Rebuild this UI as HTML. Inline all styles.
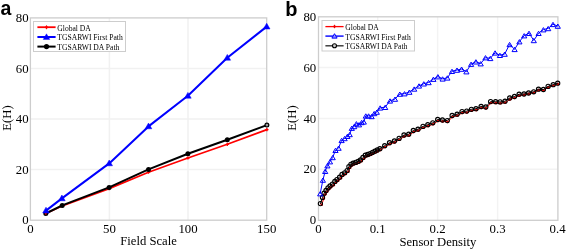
<!DOCTYPE html>
<html><head><meta charset="utf-8"><title>E(H) plots</title>
<style>
html,body{margin:0;padding:0;background:#fff;}
body{width:567px;height:250px;overflow:hidden;}
svg{display:block;}
</style></head>
<body>
<svg width="567" height="250" viewBox="0 0 567 250">
<rect width="567" height="250" fill="#ffffff"/>
<text x="0.50" y="15.20" text-anchor="start" font-family='"Liberation Sans", Arial, sans-serif' font-size="19.5" fill="#000000" font-weight="bold">a</text>
<line x1="109.4" y1="18.0" x2="109.4" y2="219.9" stroke="#f1f1f1" stroke-width="1.5"/>
<line x1="188.0" y1="18.0" x2="188.0" y2="219.9" stroke="#f1f1f1" stroke-width="1.5"/>
<line x1="30.5" y1="169.5" x2="266.5" y2="169.5" stroke="#f1f1f1" stroke-width="1.5"/>
<line x1="30.5" y1="119.0" x2="266.5" y2="119.0" stroke="#f1f1f1" stroke-width="1.5"/>
<line x1="30.5" y1="68.6" x2="266.5" y2="68.6" stroke="#f1f1f1" stroke-width="1.5"/>
<rect x="30.4" y="17.9" width="236.30" height="202.30" fill="none" stroke="#cdcdcd" stroke-width="1.3"/>
<polyline points="45.80,213.60 62.10,206.00 109.10,188.60 148.50,172.20 187.90,158.00 227.30,144.30 266.90,129.60" fill="none" stroke="#ff0000" stroke-width="1.7" stroke-linejoin="round" stroke-linecap="round"/>
<path d="M44.20 213.60H47.40M45.80 212.00V215.20" stroke="#ff0000" stroke-width="1.3" fill="none"/>
<path d="M60.50 206.00H63.70M62.10 204.40V207.60" stroke="#ff0000" stroke-width="1.3" fill="none"/>
<path d="M107.50 188.60H110.70M109.10 187.00V190.20" stroke="#ff0000" stroke-width="1.3" fill="none"/>
<path d="M146.90 172.20H150.10M148.50 170.60V173.80" stroke="#ff0000" stroke-width="1.3" fill="none"/>
<path d="M186.30 158.00H189.50M187.90 156.40V159.60" stroke="#ff0000" stroke-width="1.3" fill="none"/>
<path d="M225.70 144.30H228.90M227.30 142.70V145.90" stroke="#ff0000" stroke-width="1.3" fill="none"/>
<path d="M265.30 129.60H268.50M266.90 128.00V131.20" stroke="#ff0000" stroke-width="1.3" fill="none"/>
<polyline points="45.80,213.50 62.20,205.40 109.10,187.40 148.50,169.40 187.90,153.80 227.30,139.80 266.90,125.10" fill="none" stroke="#000000" stroke-width="2.0" stroke-linejoin="round" stroke-linecap="round"/>
<circle cx="45.80" cy="213.50" r="2.5" fill="#000000" stroke="none" stroke-width="0"/>
<circle cx="62.20" cy="205.40" r="2.5" fill="#000000" stroke="none" stroke-width="0"/>
<circle cx="109.10" cy="187.40" r="2.5" fill="#000000" stroke="none" stroke-width="0"/>
<circle cx="148.50" cy="169.40" r="2.5" fill="#000000" stroke="none" stroke-width="0"/>
<circle cx="187.90" cy="153.80" r="2.5" fill="#000000" stroke="none" stroke-width="0"/>
<circle cx="227.30" cy="139.80" r="2.5" fill="#000000" stroke="none" stroke-width="0"/>
<circle cx="266.90" cy="125.10" r="1.9" fill="#9a9a9a" stroke="#000000" stroke-width="1.2"/>
<circle cx="45.80" cy="213.70" r="1.0" fill="#dd0000" stroke="none" stroke-width="0"/>
<polyline points="46.00,210.60 61.90,198.40 109.20,163.40 148.50,126.40 187.90,95.80 227.30,57.80 266.70,26.60" fill="none" stroke="#0000ff" stroke-width="2.0" stroke-linejoin="round" stroke-linecap="round"/>
<polygon points="46.00,207.20 49.30,212.98 42.70,212.98" fill="#0000ff" stroke="#0000ff" stroke-width="0.5" stroke-linejoin="miter"/>
<polygon points="61.90,195.00 65.20,200.78 58.60,200.78" fill="#0000ff" stroke="#0000ff" stroke-width="0.5" stroke-linejoin="miter"/>
<polygon points="109.20,160.00 112.50,165.78 105.90,165.78" fill="#0000ff" stroke="#0000ff" stroke-width="0.5" stroke-linejoin="miter"/>
<polygon points="148.50,123.00 151.80,128.78 145.20,128.78" fill="#0000ff" stroke="#0000ff" stroke-width="0.5" stroke-linejoin="miter"/>
<polygon points="187.90,92.40 191.20,98.18 184.60,98.18" fill="#0000ff" stroke="#0000ff" stroke-width="0.5" stroke-linejoin="miter"/>
<polygon points="227.30,54.40 230.60,60.18 224.00,60.18" fill="#0000ff" stroke="#0000ff" stroke-width="0.5" stroke-linejoin="miter"/>
<polygon points="266.70,23.20 270.00,28.98 263.40,28.98" fill="#0000ff" stroke="#0000ff" stroke-width="0.5" stroke-linejoin="miter"/>
<text x="28.60" y="224.10" text-anchor="end" font-family='"Liberation Serif", "Times New Roman", serif' font-size="12.8" fill="#000000" >0</text>
<text x="28.60" y="173.70" text-anchor="end" font-family='"Liberation Serif", "Times New Roman", serif' font-size="12.8" fill="#000000" >20</text>
<text x="28.60" y="123.20" text-anchor="end" font-family='"Liberation Serif", "Times New Roman", serif' font-size="12.8" fill="#000000" >40</text>
<text x="28.60" y="72.80" text-anchor="end" font-family='"Liberation Serif", "Times New Roman", serif' font-size="12.8" fill="#000000" >60</text>
<text x="28.60" y="22.20" text-anchor="end" font-family='"Liberation Serif", "Times New Roman", serif' font-size="12.8" fill="#000000" >80</text>
<text x="30.50" y="232.90" text-anchor="middle" font-family='"Liberation Serif", "Times New Roman", serif' font-size="12.8" fill="#000000" >0</text>
<text x="109.40" y="232.90" text-anchor="middle" font-family='"Liberation Serif", "Times New Roman", serif' font-size="12.8" fill="#000000" >50</text>
<text x="188.00" y="232.90" text-anchor="middle" font-family='"Liberation Serif", "Times New Roman", serif' font-size="12.8" fill="#000000" >100</text>
<text x="266.70" y="232.90" text-anchor="middle" font-family='"Liberation Serif", "Times New Roman", serif' font-size="12.8" fill="#000000" >150</text>
<text transform="translate(10.7,118.0) rotate(-90)" text-anchor="middle" font-family='"Liberation Serif", "Times New Roman", serif' font-size="12.65" fill="#000000">E(H)</text>
<text x="148.50" y="245.30" text-anchor="middle" font-family='"Liberation Serif", "Times New Roman", serif' font-size="12.65" fill="#000000" >Field Scale</text>
<rect x="33.5" y="21.5" width="92.00" height="30.00" fill="#ffffff" stroke="#cdcdcd" stroke-width="1"/>
<line x1="37.4" y1="27.2" x2="55.6" y2="27.2" stroke="#ff0000" stroke-width="1.8"/>
<polygon points="46.50,25.00 48.10,27.20 46.50,29.40 44.90,27.20" fill="#ff0000"/>
<text x="57.30" y="30.60" text-anchor="start" font-family='"Liberation Serif", "Times New Roman", serif' font-size="7.6" fill="#000000" >Global DA</text>
<line x1="37.4" y1="37.0" x2="55.6" y2="37.0" stroke="#0000ff" stroke-width="2.0"/>
<polygon points="46.50,33.80 49.80,39.41 43.20,39.41" fill="#0000ff" stroke="#0000ff" stroke-width="0.4" stroke-linejoin="miter"/>
<text x="57.30" y="40.40" text-anchor="start" font-family='"Liberation Serif", "Times New Roman", serif' font-size="7.6" fill="#000000" >TGSARWI First Path</text>
<line x1="37.4" y1="46.6" x2="55.6" y2="46.6" stroke="#000000" stroke-width="2.0"/>
<circle cx="46.50" cy="46.60" r="2.6" fill="#000000" stroke="none" stroke-width="0"/>
<text x="57.30" y="50.00" text-anchor="start" font-family='"Liberation Serif", "Times New Roman", serif' font-size="7.6" fill="#000000" >TGSARWI DA Path</text>
<text x="285.20" y="15.80" text-anchor="start" font-family='"Liberation Sans", Arial, sans-serif' font-size="20" fill="#000000" font-weight="bold">b</text>
<line x1="377.7" y1="16.7" x2="377.7" y2="220.1" stroke="#f3f3f3" stroke-width="1.5"/>
<line x1="437.6" y1="16.7" x2="437.6" y2="220.1" stroke="#f3f3f3" stroke-width="1.5"/>
<line x1="497.6" y1="16.7" x2="497.6" y2="220.1" stroke="#f3f3f3" stroke-width="1.5"/>
<line x1="318.5" y1="169.2" x2="557.5" y2="169.2" stroke="#f3f3f3" stroke-width="1.5"/>
<line x1="318.5" y1="118.4" x2="557.5" y2="118.4" stroke="#f3f3f3" stroke-width="1.5"/>
<line x1="318.5" y1="67.4" x2="557.5" y2="67.4" stroke="#f3f3f3" stroke-width="1.5"/>
<rect x="318.5" y="16.8" width="239.40" height="203.50" fill="none" stroke="#cdcdcd" stroke-width="1.3"/>
<polyline points="321.70,204.70 323.80,198.60 325.40,194.30 327.30,191.60 329.30,189.00 331.30,187.10 333.70,185.20 336.10,182.60 338.20,180.70 340.90,178.30 343.30,175.60 345.90,173.90 348.40,171.70 350.20,167.70 352.20,165.40 354.40,164.30 357.00,163.50 359.40,162.50 361.80,161.10 364.20,158.60 366.60,156.30 369.00,155.60 371.40,154.70 372.80,153.80 375.20,152.60 377.60,151.40 380.20,150.10 385.00,147.10 389.80,144.10 394.70,142.40 399.40,139.80 404.30,136.40 409.00,135.60 413.60,131.90 418.30,130.60 423.30,127.80 428.10,126.10 433.10,124.20 438.00,120.90 442.70,121.40 447.60,122.00 452.40,116.90 457.40,115.60 462.30,113.00 467.00,112.50 471.70,110.70 476.30,110.10 481.40,107.90 486.10,108.40 490.90,103.00 495.90,103.10 500.40,103.30 505.30,102.60 510.00,99.40 514.80,97.90 519.40,95.60 524.20,94.90 528.80,93.90 533.90,92.70 538.70,90.10 543.60,90.40 548.30,87.30 553.40,85.60 557.90,84.10" fill="none" stroke="#ff0000" stroke-width="1.0" stroke-linejoin="round" stroke-linecap="round"/>
<circle cx="321.70" cy="204.70" r="1.3" fill="#ee0000" stroke="none" stroke-width="0"/>
<circle cx="323.80" cy="198.60" r="1.3" fill="#ee0000" stroke="none" stroke-width="0"/>
<circle cx="325.40" cy="194.30" r="1.3" fill="#ee0000" stroke="none" stroke-width="0"/>
<circle cx="327.30" cy="191.60" r="1.3" fill="#ee0000" stroke="none" stroke-width="0"/>
<circle cx="329.30" cy="189.00" r="1.3" fill="#ee0000" stroke="none" stroke-width="0"/>
<circle cx="331.30" cy="187.10" r="1.3" fill="#ee0000" stroke="none" stroke-width="0"/>
<circle cx="333.70" cy="185.20" r="1.3" fill="#ee0000" stroke="none" stroke-width="0"/>
<circle cx="336.10" cy="182.60" r="1.3" fill="#ee0000" stroke="none" stroke-width="0"/>
<circle cx="338.20" cy="180.70" r="1.3" fill="#ee0000" stroke="none" stroke-width="0"/>
<circle cx="340.90" cy="178.30" r="1.3" fill="#ee0000" stroke="none" stroke-width="0"/>
<circle cx="343.30" cy="175.60" r="1.3" fill="#ee0000" stroke="none" stroke-width="0"/>
<circle cx="345.90" cy="173.90" r="1.3" fill="#ee0000" stroke="none" stroke-width="0"/>
<circle cx="348.40" cy="171.70" r="1.3" fill="#ee0000" stroke="none" stroke-width="0"/>
<circle cx="350.20" cy="167.70" r="1.3" fill="#ee0000" stroke="none" stroke-width="0"/>
<circle cx="352.20" cy="165.40" r="1.3" fill="#ee0000" stroke="none" stroke-width="0"/>
<circle cx="354.40" cy="164.30" r="1.3" fill="#ee0000" stroke="none" stroke-width="0"/>
<circle cx="357.00" cy="163.50" r="1.3" fill="#ee0000" stroke="none" stroke-width="0"/>
<circle cx="359.40" cy="162.50" r="1.3" fill="#ee0000" stroke="none" stroke-width="0"/>
<circle cx="361.80" cy="161.10" r="1.3" fill="#ee0000" stroke="none" stroke-width="0"/>
<circle cx="364.20" cy="158.60" r="1.3" fill="#ee0000" stroke="none" stroke-width="0"/>
<circle cx="366.60" cy="156.30" r="1.3" fill="#ee0000" stroke="none" stroke-width="0"/>
<circle cx="369.00" cy="155.60" r="1.3" fill="#ee0000" stroke="none" stroke-width="0"/>
<circle cx="371.40" cy="154.70" r="1.3" fill="#ee0000" stroke="none" stroke-width="0"/>
<circle cx="372.80" cy="153.80" r="1.3" fill="#ee0000" stroke="none" stroke-width="0"/>
<circle cx="375.20" cy="152.60" r="1.3" fill="#ee0000" stroke="none" stroke-width="0"/>
<circle cx="377.60" cy="151.40" r="1.3" fill="#ee0000" stroke="none" stroke-width="0"/>
<circle cx="380.20" cy="150.10" r="1.3" fill="#ee0000" stroke="none" stroke-width="0"/>
<circle cx="385.00" cy="147.10" r="1.3" fill="#ee0000" stroke="none" stroke-width="0"/>
<circle cx="389.80" cy="144.10" r="1.3" fill="#ee0000" stroke="none" stroke-width="0"/>
<circle cx="394.70" cy="142.40" r="1.3" fill="#ee0000" stroke="none" stroke-width="0"/>
<circle cx="399.40" cy="139.80" r="1.3" fill="#ee0000" stroke="none" stroke-width="0"/>
<circle cx="404.30" cy="136.40" r="1.3" fill="#ee0000" stroke="none" stroke-width="0"/>
<circle cx="409.00" cy="135.60" r="1.3" fill="#ee0000" stroke="none" stroke-width="0"/>
<circle cx="413.60" cy="131.90" r="1.3" fill="#ee0000" stroke="none" stroke-width="0"/>
<circle cx="418.30" cy="130.60" r="1.3" fill="#ee0000" stroke="none" stroke-width="0"/>
<circle cx="423.30" cy="127.80" r="1.3" fill="#ee0000" stroke="none" stroke-width="0"/>
<circle cx="428.10" cy="126.10" r="1.3" fill="#ee0000" stroke="none" stroke-width="0"/>
<circle cx="433.10" cy="124.20" r="1.3" fill="#ee0000" stroke="none" stroke-width="0"/>
<circle cx="438.00" cy="120.90" r="1.3" fill="#ee0000" stroke="none" stroke-width="0"/>
<circle cx="442.70" cy="121.40" r="1.3" fill="#ee0000" stroke="none" stroke-width="0"/>
<circle cx="447.60" cy="122.00" r="1.3" fill="#ee0000" stroke="none" stroke-width="0"/>
<circle cx="452.40" cy="116.90" r="1.3" fill="#ee0000" stroke="none" stroke-width="0"/>
<circle cx="457.40" cy="115.60" r="1.3" fill="#ee0000" stroke="none" stroke-width="0"/>
<circle cx="462.30" cy="113.00" r="1.3" fill="#ee0000" stroke="none" stroke-width="0"/>
<circle cx="467.00" cy="112.50" r="1.3" fill="#ee0000" stroke="none" stroke-width="0"/>
<circle cx="471.70" cy="110.70" r="1.3" fill="#ee0000" stroke="none" stroke-width="0"/>
<circle cx="476.30" cy="110.10" r="1.3" fill="#ee0000" stroke="none" stroke-width="0"/>
<circle cx="481.40" cy="107.90" r="1.3" fill="#ee0000" stroke="none" stroke-width="0"/>
<circle cx="486.10" cy="108.40" r="1.3" fill="#ee0000" stroke="none" stroke-width="0"/>
<circle cx="490.90" cy="103.00" r="1.3" fill="#ee0000" stroke="none" stroke-width="0"/>
<circle cx="495.90" cy="103.10" r="1.3" fill="#ee0000" stroke="none" stroke-width="0"/>
<circle cx="500.40" cy="103.30" r="1.3" fill="#ee0000" stroke="none" stroke-width="0"/>
<circle cx="505.30" cy="102.60" r="1.3" fill="#ee0000" stroke="none" stroke-width="0"/>
<circle cx="510.00" cy="99.40" r="1.3" fill="#ee0000" stroke="none" stroke-width="0"/>
<circle cx="514.80" cy="97.90" r="1.3" fill="#ee0000" stroke="none" stroke-width="0"/>
<circle cx="519.40" cy="95.60" r="1.3" fill="#ee0000" stroke="none" stroke-width="0"/>
<circle cx="524.20" cy="94.90" r="1.3" fill="#ee0000" stroke="none" stroke-width="0"/>
<circle cx="528.80" cy="93.90" r="1.3" fill="#ee0000" stroke="none" stroke-width="0"/>
<circle cx="533.90" cy="92.70" r="1.3" fill="#ee0000" stroke="none" stroke-width="0"/>
<circle cx="538.70" cy="90.10" r="1.3" fill="#ee0000" stroke="none" stroke-width="0"/>
<circle cx="543.60" cy="90.40" r="1.3" fill="#ee0000" stroke="none" stroke-width="0"/>
<circle cx="548.30" cy="87.30" r="1.3" fill="#ee0000" stroke="none" stroke-width="0"/>
<circle cx="553.40" cy="85.60" r="1.3" fill="#ee0000" stroke="none" stroke-width="0"/>
<circle cx="557.90" cy="84.10" r="1.3" fill="#ee0000" stroke="none" stroke-width="0"/>
<polyline points="320.40,203.60 322.50,197.50 324.10,193.20 326.00,190.50 328.00,187.90 330.00,186.00 332.40,184.10 334.80,181.50 336.90,179.60 339.60,177.20 342.00,174.50 344.60,172.80 347.10,170.60 348.90,166.60 350.90,164.30 353.10,163.20 355.70,162.40 358.10,161.40 360.50,160.00 362.90,157.50 365.30,155.20 367.70,154.50 370.10,153.60 372.50,152.40 374.90,151.20 377.30,150.00 379.90,148.70 384.70,145.70 389.50,142.70 394.40,141.00 399.10,138.40 404.00,135.00 408.70,134.20 413.30,130.50 418.00,129.20 423.00,126.40 427.80,124.70 432.80,122.80 437.70,119.50 442.40,120.00 447.30,120.60 452.10,115.50 457.10,114.20 462.00,111.60 466.70,111.10 471.40,109.30 476.00,108.70 481.10,106.50 485.80,107.00 490.60,101.60 495.60,101.70 500.10,101.90 505.00,101.20 509.70,98.00 514.50,96.50 519.10,94.20 524.00,94.00 528.60,93.00 533.70,91.80 538.50,89.20 543.40,89.50 548.10,86.40 553.20,84.70 557.70,83.20" fill="none" stroke="#000000" stroke-width="1.0" stroke-linejoin="round" stroke-linecap="round"/>
<circle cx="320.40" cy="203.60" r="2.1" fill="none" stroke="#000000" stroke-width="1.1"/>
<circle cx="322.50" cy="197.50" r="2.1" fill="none" stroke="#000000" stroke-width="1.1"/>
<circle cx="324.10" cy="193.20" r="2.1" fill="none" stroke="#000000" stroke-width="1.1"/>
<circle cx="326.00" cy="190.50" r="2.1" fill="none" stroke="#000000" stroke-width="1.1"/>
<circle cx="328.00" cy="187.90" r="2.1" fill="none" stroke="#000000" stroke-width="1.1"/>
<circle cx="330.00" cy="186.00" r="2.1" fill="none" stroke="#000000" stroke-width="1.1"/>
<circle cx="332.40" cy="184.10" r="2.1" fill="none" stroke="#000000" stroke-width="1.1"/>
<circle cx="334.80" cy="181.50" r="2.1" fill="none" stroke="#000000" stroke-width="1.1"/>
<circle cx="336.90" cy="179.60" r="2.1" fill="none" stroke="#000000" stroke-width="1.1"/>
<circle cx="339.60" cy="177.20" r="2.1" fill="none" stroke="#000000" stroke-width="1.1"/>
<circle cx="342.00" cy="174.50" r="2.1" fill="none" stroke="#000000" stroke-width="1.1"/>
<circle cx="344.60" cy="172.80" r="2.1" fill="none" stroke="#000000" stroke-width="1.1"/>
<circle cx="347.10" cy="170.60" r="2.1" fill="none" stroke="#000000" stroke-width="1.1"/>
<circle cx="348.90" cy="166.60" r="2.1" fill="none" stroke="#000000" stroke-width="1.1"/>
<circle cx="350.90" cy="164.30" r="2.1" fill="none" stroke="#000000" stroke-width="1.1"/>
<circle cx="353.10" cy="163.20" r="2.1" fill="none" stroke="#000000" stroke-width="1.1"/>
<circle cx="355.70" cy="162.40" r="2.1" fill="none" stroke="#000000" stroke-width="1.1"/>
<circle cx="358.10" cy="161.40" r="2.1" fill="none" stroke="#000000" stroke-width="1.1"/>
<circle cx="360.50" cy="160.00" r="2.1" fill="none" stroke="#000000" stroke-width="1.1"/>
<circle cx="362.90" cy="157.50" r="2.1" fill="none" stroke="#000000" stroke-width="1.1"/>
<circle cx="365.30" cy="155.20" r="2.1" fill="none" stroke="#000000" stroke-width="1.1"/>
<circle cx="367.70" cy="154.50" r="2.1" fill="none" stroke="#000000" stroke-width="1.1"/>
<circle cx="370.10" cy="153.60" r="2.1" fill="none" stroke="#000000" stroke-width="1.1"/>
<circle cx="372.50" cy="152.40" r="2.1" fill="none" stroke="#000000" stroke-width="1.1"/>
<circle cx="374.90" cy="151.20" r="2.1" fill="none" stroke="#000000" stroke-width="1.1"/>
<circle cx="377.30" cy="150.00" r="2.1" fill="none" stroke="#000000" stroke-width="1.1"/>
<circle cx="379.90" cy="148.70" r="2.1" fill="none" stroke="#000000" stroke-width="1.1"/>
<circle cx="384.70" cy="145.70" r="2.1" fill="none" stroke="#000000" stroke-width="1.1"/>
<circle cx="389.50" cy="142.70" r="2.1" fill="none" stroke="#000000" stroke-width="1.1"/>
<circle cx="394.40" cy="141.00" r="2.1" fill="none" stroke="#000000" stroke-width="1.1"/>
<circle cx="399.10" cy="138.40" r="2.1" fill="none" stroke="#000000" stroke-width="1.1"/>
<circle cx="404.00" cy="135.00" r="2.1" fill="none" stroke="#000000" stroke-width="1.1"/>
<circle cx="408.70" cy="134.20" r="2.1" fill="none" stroke="#000000" stroke-width="1.1"/>
<circle cx="413.30" cy="130.50" r="2.1" fill="none" stroke="#000000" stroke-width="1.1"/>
<circle cx="418.00" cy="129.20" r="2.1" fill="none" stroke="#000000" stroke-width="1.1"/>
<circle cx="423.00" cy="126.40" r="2.1" fill="none" stroke="#000000" stroke-width="1.1"/>
<circle cx="427.80" cy="124.70" r="2.1" fill="none" stroke="#000000" stroke-width="1.1"/>
<circle cx="432.80" cy="122.80" r="2.1" fill="none" stroke="#000000" stroke-width="1.1"/>
<circle cx="437.70" cy="119.50" r="2.1" fill="none" stroke="#000000" stroke-width="1.1"/>
<circle cx="442.40" cy="120.00" r="2.1" fill="none" stroke="#000000" stroke-width="1.1"/>
<circle cx="447.30" cy="120.60" r="2.1" fill="none" stroke="#000000" stroke-width="1.1"/>
<circle cx="452.10" cy="115.50" r="2.1" fill="none" stroke="#000000" stroke-width="1.1"/>
<circle cx="457.10" cy="114.20" r="2.1" fill="none" stroke="#000000" stroke-width="1.1"/>
<circle cx="462.00" cy="111.60" r="2.1" fill="none" stroke="#000000" stroke-width="1.1"/>
<circle cx="466.70" cy="111.10" r="2.1" fill="none" stroke="#000000" stroke-width="1.1"/>
<circle cx="471.40" cy="109.30" r="2.1" fill="none" stroke="#000000" stroke-width="1.1"/>
<circle cx="476.00" cy="108.70" r="2.1" fill="none" stroke="#000000" stroke-width="1.1"/>
<circle cx="481.10" cy="106.50" r="2.1" fill="none" stroke="#000000" stroke-width="1.1"/>
<circle cx="485.80" cy="107.00" r="2.1" fill="none" stroke="#000000" stroke-width="1.1"/>
<circle cx="490.60" cy="101.60" r="2.1" fill="none" stroke="#000000" stroke-width="1.1"/>
<circle cx="495.60" cy="101.70" r="2.1" fill="none" stroke="#000000" stroke-width="1.1"/>
<circle cx="500.10" cy="101.90" r="2.1" fill="none" stroke="#000000" stroke-width="1.1"/>
<circle cx="505.00" cy="101.20" r="2.1" fill="none" stroke="#000000" stroke-width="1.1"/>
<circle cx="509.70" cy="98.00" r="2.1" fill="none" stroke="#000000" stroke-width="1.1"/>
<circle cx="514.50" cy="96.50" r="2.1" fill="none" stroke="#000000" stroke-width="1.1"/>
<circle cx="519.10" cy="94.20" r="2.1" fill="none" stroke="#000000" stroke-width="1.1"/>
<circle cx="524.00" cy="94.00" r="2.1" fill="none" stroke="#000000" stroke-width="1.1"/>
<circle cx="528.60" cy="93.00" r="2.1" fill="none" stroke="#000000" stroke-width="1.1"/>
<circle cx="533.70" cy="91.80" r="2.1" fill="none" stroke="#000000" stroke-width="1.1"/>
<circle cx="538.50" cy="89.20" r="2.1" fill="none" stroke="#000000" stroke-width="1.1"/>
<circle cx="543.40" cy="89.50" r="2.1" fill="none" stroke="#000000" stroke-width="1.1"/>
<circle cx="548.10" cy="86.40" r="2.1" fill="none" stroke="#000000" stroke-width="1.1"/>
<circle cx="553.20" cy="84.70" r="2.1" fill="none" stroke="#000000" stroke-width="1.1"/>
<circle cx="557.70" cy="83.20" r="2.1" fill="none" stroke="#000000" stroke-width="1.1"/>
<polyline points="320.20,193.60 322.90,180.00 325.20,171.20 327.40,165.60 330.00,161.60 332.70,157.40 335.50,150.20 338.60,148.00 341.60,140.30 344.60,138.40 347.40,136.20 349.70,134.40 351.80,128.10 354.20,126.40 356.40,123.60 359.00,124.60 361.60,122.40 363.80,121.80 365.80,115.80 368.60,115.80 371.60,116.40 374.20,113.40 376.80,112.00 380.20,107.80 385.20,107.20 390.00,100.80 395.00,99.00 399.80,94.00 404.50,93.60 409.40,92.00 414.20,88.90 419.00,85.80 423.80,83.70 428.60,82.40 433.40,79.10 437.90,76.60 442.60,78.80 447.40,77.80 452.00,71.20 457.00,70.00 461.60,69.00 466.40,71.60 471.10,64.10 475.90,61.70 480.70,63.60 485.50,57.60 490.30,58.30 495.10,52.80 499.90,55.20 504.70,54.00 509.60,44.40 514.60,49.30 519.40,41.60 524.20,35.60 529.00,33.20 533.80,40.40 538.60,33.20 543.40,29.60 548.20,28.40 553.00,24.30 557.80,26.00" fill="none" stroke="#0000ff" stroke-width="1.0" stroke-linejoin="round" stroke-linecap="round"/>
<polygon points="320.20,191.60 322.80,195.90 317.60,195.90" fill="none" stroke="#0000ff" stroke-width="1.0"/>
<polygon points="322.90,178.00 325.50,182.30 320.30,182.30" fill="none" stroke="#0000ff" stroke-width="1.0"/>
<polygon points="325.20,169.20 327.80,173.50 322.60,173.50" fill="none" stroke="#0000ff" stroke-width="1.0"/>
<polygon points="327.40,163.60 330.00,167.90 324.80,167.90" fill="none" stroke="#0000ff" stroke-width="1.0"/>
<polygon points="330.00,159.60 332.60,163.90 327.40,163.90" fill="none" stroke="#0000ff" stroke-width="1.0"/>
<polygon points="332.70,155.40 335.30,159.70 330.10,159.70" fill="none" stroke="#0000ff" stroke-width="1.0"/>
<polygon points="335.50,148.20 338.10,152.50 332.90,152.50" fill="none" stroke="#0000ff" stroke-width="1.0"/>
<polygon points="338.60,146.00 341.20,150.30 336.00,150.30" fill="none" stroke="#0000ff" stroke-width="1.0"/>
<polygon points="341.60,138.30 344.20,142.60 339.00,142.60" fill="none" stroke="#0000ff" stroke-width="1.0"/>
<polygon points="344.60,136.40 347.20,140.70 342.00,140.70" fill="none" stroke="#0000ff" stroke-width="1.0"/>
<polygon points="347.40,134.20 350.00,138.50 344.80,138.50" fill="none" stroke="#0000ff" stroke-width="1.0"/>
<polygon points="349.70,132.40 352.30,136.70 347.10,136.70" fill="none" stroke="#0000ff" stroke-width="1.0"/>
<polygon points="351.80,126.10 354.40,130.40 349.20,130.40" fill="none" stroke="#0000ff" stroke-width="1.0"/>
<polygon points="354.20,124.40 356.80,128.70 351.60,128.70" fill="none" stroke="#0000ff" stroke-width="1.0"/>
<polygon points="356.40,121.60 359.00,125.90 353.80,125.90" fill="none" stroke="#0000ff" stroke-width="1.0"/>
<polygon points="359.00,122.60 361.60,126.90 356.40,126.90" fill="none" stroke="#0000ff" stroke-width="1.0"/>
<polygon points="361.60,120.40 364.20,124.70 359.00,124.70" fill="none" stroke="#0000ff" stroke-width="1.0"/>
<polygon points="363.80,119.80 366.40,124.10 361.20,124.10" fill="none" stroke="#0000ff" stroke-width="1.0"/>
<polygon points="365.80,113.80 368.40,118.10 363.20,118.10" fill="none" stroke="#0000ff" stroke-width="1.0"/>
<polygon points="368.60,113.80 371.20,118.10 366.00,118.10" fill="none" stroke="#0000ff" stroke-width="1.0"/>
<polygon points="371.60,114.40 374.20,118.70 369.00,118.70" fill="none" stroke="#0000ff" stroke-width="1.0"/>
<polygon points="374.20,111.40 376.80,115.70 371.60,115.70" fill="none" stroke="#0000ff" stroke-width="1.0"/>
<polygon points="376.80,110.00 379.40,114.30 374.20,114.30" fill="none" stroke="#0000ff" stroke-width="1.0"/>
<polygon points="380.20,105.80 382.80,110.10 377.60,110.10" fill="none" stroke="#0000ff" stroke-width="1.0"/>
<polygon points="385.20,105.20 387.80,109.50 382.60,109.50" fill="none" stroke="#0000ff" stroke-width="1.0"/>
<polygon points="390.00,98.80 392.60,103.10 387.40,103.10" fill="none" stroke="#0000ff" stroke-width="1.0"/>
<polygon points="395.00,97.00 397.60,101.30 392.40,101.30" fill="none" stroke="#0000ff" stroke-width="1.0"/>
<polygon points="399.80,92.00 402.40,96.30 397.20,96.30" fill="none" stroke="#0000ff" stroke-width="1.0"/>
<polygon points="404.50,91.60 407.10,95.90 401.90,95.90" fill="none" stroke="#0000ff" stroke-width="1.0"/>
<polygon points="409.40,90.00 412.00,94.30 406.80,94.30" fill="none" stroke="#0000ff" stroke-width="1.0"/>
<polygon points="414.20,86.90 416.80,91.20 411.60,91.20" fill="none" stroke="#0000ff" stroke-width="1.0"/>
<polygon points="419.00,83.80 421.60,88.10 416.40,88.10" fill="none" stroke="#0000ff" stroke-width="1.0"/>
<polygon points="423.80,81.70 426.40,86.00 421.20,86.00" fill="none" stroke="#0000ff" stroke-width="1.0"/>
<polygon points="428.60,80.40 431.20,84.70 426.00,84.70" fill="none" stroke="#0000ff" stroke-width="1.0"/>
<polygon points="433.40,77.10 436.00,81.40 430.80,81.40" fill="none" stroke="#0000ff" stroke-width="1.0"/>
<polygon points="437.90,74.60 440.50,78.90 435.30,78.90" fill="none" stroke="#0000ff" stroke-width="1.0"/>
<polygon points="442.60,76.80 445.20,81.10 440.00,81.10" fill="none" stroke="#0000ff" stroke-width="1.0"/>
<polygon points="447.40,75.80 450.00,80.10 444.80,80.10" fill="none" stroke="#0000ff" stroke-width="1.0"/>
<polygon points="452.00,69.20 454.60,73.50 449.40,73.50" fill="none" stroke="#0000ff" stroke-width="1.0"/>
<polygon points="457.00,68.00 459.60,72.30 454.40,72.30" fill="none" stroke="#0000ff" stroke-width="1.0"/>
<polygon points="461.60,67.00 464.20,71.30 459.00,71.30" fill="none" stroke="#0000ff" stroke-width="1.0"/>
<polygon points="466.40,69.60 469.00,73.90 463.80,73.90" fill="none" stroke="#0000ff" stroke-width="1.0"/>
<polygon points="471.10,62.10 473.70,66.40 468.50,66.40" fill="none" stroke="#0000ff" stroke-width="1.0"/>
<polygon points="475.90,59.70 478.50,64.00 473.30,64.00" fill="none" stroke="#0000ff" stroke-width="1.0"/>
<polygon points="480.70,61.60 483.30,65.90 478.10,65.90" fill="none" stroke="#0000ff" stroke-width="1.0"/>
<polygon points="485.50,55.60 488.10,59.90 482.90,59.90" fill="none" stroke="#0000ff" stroke-width="1.0"/>
<polygon points="490.30,56.30 492.90,60.60 487.70,60.60" fill="none" stroke="#0000ff" stroke-width="1.0"/>
<polygon points="495.10,50.80 497.70,55.10 492.50,55.10" fill="none" stroke="#0000ff" stroke-width="1.0"/>
<polygon points="499.90,53.20 502.50,57.50 497.30,57.50" fill="none" stroke="#0000ff" stroke-width="1.0"/>
<polygon points="504.70,52.00 507.30,56.30 502.10,56.30" fill="none" stroke="#0000ff" stroke-width="1.0"/>
<polygon points="509.60,42.40 512.20,46.70 507.00,46.70" fill="none" stroke="#0000ff" stroke-width="1.0"/>
<polygon points="514.60,47.30 517.20,51.60 512.00,51.60" fill="none" stroke="#0000ff" stroke-width="1.0"/>
<polygon points="519.40,39.60 522.00,43.90 516.80,43.90" fill="none" stroke="#0000ff" stroke-width="1.0"/>
<polygon points="524.20,33.60 526.80,37.90 521.60,37.90" fill="none" stroke="#0000ff" stroke-width="1.0"/>
<polygon points="529.00,31.20 531.60,35.50 526.40,35.50" fill="none" stroke="#0000ff" stroke-width="1.0"/>
<polygon points="533.80,38.40 536.40,42.70 531.20,42.70" fill="none" stroke="#0000ff" stroke-width="1.0"/>
<polygon points="538.60,31.20 541.20,35.50 536.00,35.50" fill="none" stroke="#0000ff" stroke-width="1.0"/>
<polygon points="543.40,27.60 546.00,31.90 540.80,31.90" fill="none" stroke="#0000ff" stroke-width="1.0"/>
<polygon points="548.20,26.40 550.80,30.70 545.60,30.70" fill="none" stroke="#0000ff" stroke-width="1.0"/>
<polygon points="553.00,22.30 555.60,26.60 550.40,26.60" fill="none" stroke="#0000ff" stroke-width="1.0"/>
<polygon points="557.80,24.00 560.40,28.30 555.20,28.30" fill="none" stroke="#0000ff" stroke-width="1.0"/>
<text x="316.20" y="224.30" text-anchor="end" font-family='"Liberation Serif", "Times New Roman", serif' font-size="12.8" fill="#000000" >0</text>
<text x="316.20" y="173.40" text-anchor="end" font-family='"Liberation Serif", "Times New Roman", serif' font-size="12.8" fill="#000000" >20</text>
<text x="316.20" y="122.60" text-anchor="end" font-family='"Liberation Serif", "Times New Roman", serif' font-size="12.8" fill="#000000" >40</text>
<text x="316.20" y="71.60" text-anchor="end" font-family='"Liberation Serif", "Times New Roman", serif' font-size="12.8" fill="#000000" >60</text>
<text x="316.20" y="20.90" text-anchor="end" font-family='"Liberation Serif", "Times New Roman", serif' font-size="12.8" fill="#000000" >80</text>
<text x="318.40" y="232.90" text-anchor="middle" font-family='"Liberation Serif", "Times New Roman", serif' font-size="12.8" fill="#000000" >0</text>
<text x="377.70" y="232.90" text-anchor="middle" font-family='"Liberation Serif", "Times New Roman", serif' font-size="12.8" fill="#000000" >0.1</text>
<text x="437.60" y="232.90" text-anchor="middle" font-family='"Liberation Serif", "Times New Roman", serif' font-size="12.8" fill="#000000" >0.2</text>
<text x="497.60" y="232.90" text-anchor="middle" font-family='"Liberation Serif", "Times New Roman", serif' font-size="12.8" fill="#000000" >0.3</text>
<text x="557.60" y="232.90" text-anchor="middle" font-family='"Liberation Serif", "Times New Roman", serif' font-size="12.8" fill="#000000" >0.4</text>
<text transform="translate(296.0,118.0) rotate(-90)" text-anchor="middle" font-family='"Liberation Serif", "Times New Roman", serif' font-size="12.65" fill="#000000">E(H)</text>
<text x="437.90" y="245.70" text-anchor="middle" font-family='"Liberation Serif", "Times New Roman", serif' font-size="12.65" fill="#000000" >Sensor Density</text>
<rect x="322.0" y="20.5" width="92.50" height="30.50" fill="#ffffff" stroke="#cdcdcd" stroke-width="1"/>
<line x1="325.4" y1="26.6" x2="343.6" y2="26.6" stroke="#ff0000" stroke-width="1.3"/>
<polygon points="334.50,24.60 336.00,26.60 334.50,28.60 333.00,26.60" fill="#ee0000"/>
<text x="345.30" y="29.70" text-anchor="start" font-family='"Liberation Serif", "Times New Roman", serif' font-size="7.6" fill="#000000" >Global DA</text>
<line x1="325.4" y1="36.1" x2="343.6" y2="36.1" stroke="#0000ff" stroke-width="1.4"/>
<polygon points="334.50,33.70 337.10,38.12 331.90,38.12" fill="#9999ff" stroke="#0000ff" stroke-width="1.0" stroke-linejoin="miter"/>
<text x="345.30" y="39.70" text-anchor="start" font-family='"Liberation Serif", "Times New Roman", serif' font-size="7.6" fill="#000000" >TGSARWI First Path</text>
<line x1="325.4" y1="45.8" x2="343.6" y2="45.8" stroke="#333333" stroke-width="1.4"/>
<circle cx="334.50" cy="45.80" r="2.0" fill="#cccccc" stroke="#000000" stroke-width="1.1"/>
<text x="345.30" y="49.30" text-anchor="start" font-family='"Liberation Serif", "Times New Roman", serif' font-size="7.6" fill="#000000" >TGSARWI DA Path</text>
</svg>
</body></html>
